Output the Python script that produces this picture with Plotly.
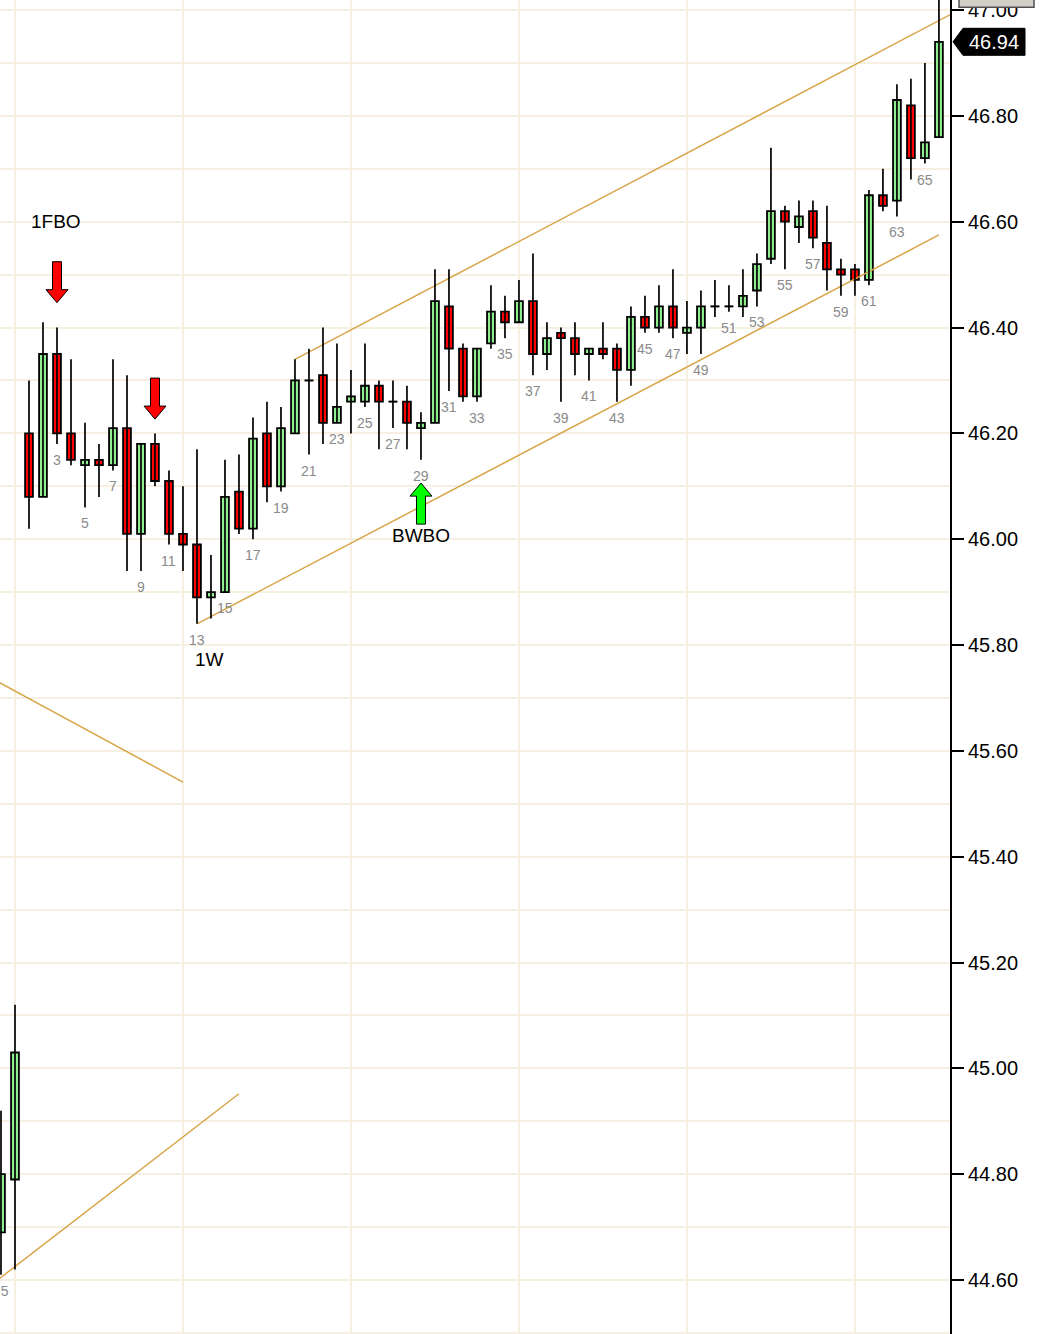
import plotly.graph_objects as go

# ---------------- data ----------------
bar_index = list(range(-1, 67))
opens = [44.69, 44.79,
         46.20, 46.08, 46.35, 46.20, 46.14, 46.15, 46.14, 46.21, 46.01, 46.18,
         46.11, 46.01, 45.99, 45.89, 45.90, 46.09, 46.02, 46.20, 46.10, 46.20,
         46.30, 46.31, 46.22, 46.26, 46.26, 46.29, 46.26, 46.26, 46.21, 46.22,
         46.44, 46.36, 46.27, 46.37, 46.43, 46.41, 46.45, 46.35, 46.39, 46.38,
         46.35, 46.36, 46.36, 46.32, 46.42, 46.40, 46.44, 46.39, 46.40, 46.44,
         46.44, 46.44, 46.47, 46.53, 46.62, 46.59, 46.62, 46.56, 46.51, 46.51,
         46.49, 46.65, 46.64, 46.82, 46.72, 46.76]
highs = [44.92, 45.12,
         46.30, 46.41, 46.40, 46.34, 46.22, 46.18, 46.34, 46.31, 46.18, 46.20,
         46.13, 46.10, 46.17, 45.97, 46.15, 46.16, 46.23, 46.26, 46.25, 46.34,
         46.36, 46.40, 46.37, 46.32, 46.37, 46.30, 46.30, 46.29, 46.24, 46.51,
         46.51, 46.37, 46.36, 46.48, 46.46, 46.49, 46.54, 46.41, 46.40, 46.41,
         46.36, 46.41, 46.37, 46.44, 46.46, 46.48, 46.51, 46.45, 46.47, 46.49,
         46.48, 46.51, 46.54, 46.74, 46.63, 46.64, 46.64, 46.63, 46.53, 46.52,
         46.66, 46.70, 46.86, 46.87, 46.90, 47.03]
lows = [44.61, 44.62,
        46.02, 46.08, 46.18, 46.14, 46.06, 46.08, 46.13, 45.94, 45.94, 46.10,
        45.99, 45.94, 45.84, 45.85, 45.90, 46.01, 46.00, 46.07, 46.09, 46.20,
        46.16, 46.18, 46.22, 46.20, 46.25, 46.17, 46.21, 46.17, 46.15, 46.22,
        46.28, 46.26, 46.26, 46.36, 46.38, 46.41, 46.31, 46.32, 46.26, 46.31,
        46.30, 46.34, 46.26, 46.29, 46.39, 46.39, 46.38, 46.35, 46.35, 46.42,
        46.43, 46.42, 46.44, 46.52, 46.51, 46.56, 46.55, 46.47, 46.46, 46.46,
        46.48, 46.62, 46.61, 46.68, 46.71, 46.76]
closes = [44.80, 45.03,
          46.08, 46.35, 46.20, 46.15, 46.15, 46.14, 46.21, 46.01, 46.18, 46.11,
          46.01, 45.99, 45.89, 45.90, 46.08, 46.02, 46.19, 46.10, 46.21, 46.30,
          46.30, 46.22, 46.25, 46.27, 46.29, 46.26, 46.26, 46.22, 46.22, 46.45,
          46.36, 46.27, 46.36, 46.43, 46.41, 46.45, 46.35, 46.38, 46.38, 46.35,
          46.36, 46.35, 46.32, 46.42, 46.40, 46.44, 46.40, 46.40, 46.44, 46.44,
          46.44, 46.46, 46.52, 46.62, 46.60, 46.61, 46.57, 46.51, 46.50, 46.49,
          46.65, 46.63, 46.83, 46.72, 46.75, 46.94]

# bar count labels
label_bars = [-1] + list(range(3, 66, 2))
label_texts = ["75"] + [str(k) for k in range(3, 66, 2)]

# signal texts
signal_texts = ["1FBO", "BWBO", "1W"]
signal_x = [2.93, 29, 13.9]
signal_y = [46.60, 46.007, 45.772]

# signal arrows
arrow_bars = [3, 10, 29]
arrow_tips = [46.447, 46.227, 46.106]
arrow_dirs = ["down", "down", "up"]
arrow_colors = ["#FF0000", "#FF0000", "#00FF00"]

# trend lines (bar, price) pairs
trend_x0 = [13, 20, -2, -1.1]
trend_y0 = [45.84, 46.34, 45.742, 44.603]
trend_x1 = [66, 67, 12, 16]
trend_y1 = [46.575, 46.994, 45.541, 44.952]

# axes
price_ticks = [44.6, 44.8, 45.0, 45.2, 45.4, 45.6, 45.8, 46.0, 46.2, 46.4, 46.6, 46.8, 47.0]
grid_levels = [44.5, 44.7, 44.9, 45.1, 45.3, 45.5, 45.7, 45.9, 46.1, 46.3, 46.5, 46.7, 46.9]
x_range = [-1.071, 66.79]
y_range = [44.498, 47.019]
session_break = 0

# ---------------- layout constants ----------------
W, H = 1040, 1334
M_R = 90
PLOT_W = W - M_R
PLOT_H = H
px_bar = PLOT_W / (x_range[1] - x_range[0])
px_price = PLOT_H / (y_range[1] - y_range[0])

GRID = "#F6EFE2"
TREND = "#D8A448"
FONT = "Liberation Sans, Arial, sans-serif"

fig = go.Figure()

# trend lines
for x0, y0, x1, y1 in zip(trend_x0, trend_y0, trend_x1, trend_y1):
    fig.add_trace(go.Scatter(x=[x0, x1], y=[y0, y1], mode="lines",
                             line=dict(color=TREND, width=1.5),
                             hoverinfo="skip", showlegend=False))

# wicks
wx, wy = [], []
for k, h, l in zip(bar_index, highs, lows):
    wx += [k, k, None]
    wy += [l, h, None]
fig.add_trace(go.Scatter(x=wx, y=wy, mode="lines", line=dict(color="black", width=1.7),
                         hoverinfo="skip", showlegend=False))

# bodies
for up, color in [(True, "#90EE90"), (False, "#FF0000")]:
    xs, base, hts = [], [], []
    for k, o, c in zip(bar_index, opens, closes):
        if o == c:
            continue
        if (c > o) == up:
            xs.append(k)
            base.append(min(o, c))
            hts.append(abs(c - o))
    fig.add_trace(go.Bar(x=xs, y=hts, base=base, width=0.56,
                         marker=dict(color=color, opacity=1,
                                     line=dict(color="black", width=1.8)),
                         hoverinfo="skip", showlegend=False))

# dojis
dx, dy = [], []
for k, o, c in zip(bar_index, opens, closes):
    if o == c:
        dx += [k - 0.32, k + 0.32, None]
        dy += [o, o, None]
fig.add_trace(go.Scatter(x=dx, y=dy, mode="lines", line=dict(color="black", width=2),
                         hoverinfo="skip", showlegend=False))

shapes = []
annotations = []

# session break line
shapes.append(dict(type="line", xref="x", yref="paper", x0=session_break, x1=session_break,
                   y0=0, y1=1, line=dict(color="#C4C4C4", width=2), layer="below"))

# arrows
def arrow_path(xc, ytip, direction):
    e = 1 if direction == "down" else -1
    pts = [(0, 0), (-11, 13), (-4.5, 13), (-4.5, 41), (4.5, 41), (4.5, 13), (11, 13)]
    coords = [(xc + px / px_bar, ytip + e * py / px_price) for px, py in pts]
    return "M " + " L ".join(f"{x:.5f},{y:.5f}" for x, y in coords) + " Z"

for b, t, d, col in zip(arrow_bars, arrow_tips, arrow_dirs, arrow_colors):
    shapes.append(dict(type="path", xref="x", yref="y", path=arrow_path(b, t, d),
                       fillcolor=col, line=dict(color="black", width=1), layer="above"))

# bar count labels
lows_by_bar = dict(zip(bar_index, lows))
for b, t in zip(label_bars, label_texts):
    annotations.append(dict(x=b, y=lows_by_bar[b], xref="x", yref="y", text=t,
                            showarrow=False, yshift=-16, xanchor="center", yanchor="middle",
                            font=dict(family=FONT, size=14, color="#8A8A8A")))

# signal texts
for t, x, y in zip(signal_texts, signal_x, signal_y):
    annotations.append(dict(x=x, y=y, xref="x", yref="y", text=t, showarrow=False,
                            xanchor="center", yanchor="middle",
                            font=dict(family=FONT, size=19, color="black")))

# price tags (last close, session high)
def paper_y(p):
    return (p - y_range[0]) / (y_range[1] - y_range[0])

last_close = closes[-1]
ty = paper_y(last_close)
half = 13.5 / PLOT_H
tag_pts = [(953, ty), (963, ty + half), (1025, ty + half), (1025, ty - half), (963, ty - half)]
shapes.append(dict(type="path", xref="paper", yref="paper", layer="above",
                   path="M " + " L ".join(f"{x / PLOT_W:.5f},{y:.5f}" for x, y in tag_pts) + " Z",
                   fillcolor="black", line=dict(color="black", width=1)))
annotations.append(dict(x=994 / PLOT_W, y=last_close, xref="paper", yref="y",
                        text=f"{last_close:.2f}", showarrow=False,
                        xanchor="center", yanchor="middle",
                        font=dict(family=FONT, size=20, color="white")))

hi = max(highs)
hy = paper_y(hi)
shapes.append(dict(type="rect", xref="paper", yref="paper", layer="above",
                   x0=959 / PLOT_W, x1=1034 / PLOT_W, y0=hy - 13 / PLOT_H, y1=hy + 13 / PLOT_H,
                   fillcolor="#D4D0C8", line=dict(color="#505050", width=1.5)))
annotations.append(dict(x=996 / PLOT_W, y=hi, xref="paper", yref="y",
                        text=f"{hi:.2f}", showarrow=False,
                        xanchor="center", yanchor="middle",
                        font=dict(family=FONT, size=20, color="#202020")))

fig.update_layout(
    width=W, height=H,
    margin=dict(l=0, r=M_R, t=0, b=0, pad=0),
    paper_bgcolor="white", plot_bgcolor="white",
    barmode="overlay", showlegend=False,
    shapes=shapes, annotations=annotations,
    xaxis=dict(range=x_range, showticklabels=False, showgrid=True, gridcolor=GRID,
               gridwidth=2, tick0=0, dtick=12, zeroline=False, showline=False, ticks="",
               fixedrange=True),
    yaxis=dict(range=y_range, side="right", tickmode="array", tickvals=price_ticks,
               tickformat=".2f", ticks="outside", ticklen=12, tickwidth=1.5, tickcolor="black",
               showline=True, linecolor="black", linewidth=2, showgrid=True, gridcolor=GRID,
               gridwidth=2, zeroline=False, automargin=False, ticklabeloverflow="allow",
               tickfont=dict(family=FONT, size=20, color="black"),
               minor=dict(tickmode="array", tickvals=grid_levels, showgrid=True,
                          gridcolor=GRID, gridwidth=2, ticks=""),
               fixedrange=True),
)

fig.write_html("out.html", config={"displayModeBar": False},
               post_script="document.body.style.margin='0';")
